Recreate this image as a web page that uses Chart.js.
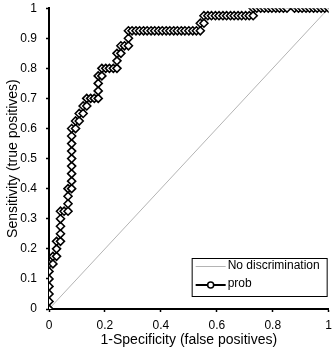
<!DOCTYPE html>
<html>
<head>
<meta charset="utf-8">
<script src="https://cdn.jsdelivr.net/npm/chart.js@4.4.1/dist/chart.umd.min.js"></script>
<style>
  html, body { margin: 0; padding: 0; background: #fff; overflow: hidden; }
  #wrap { width: 338px; height: 357px; position: relative; top: -8px; }
</style>
</head>
<body>
<div id="wrap"><canvas id="roc"></canvas></div>
<script>
// ROC curve: 1-specificity and sensitivity
const fpr = [
    0, 0, 0, 0, 0, 0, 0,
    0.014, 0.014, 0.027, 0.027, 0.027, 0.041, 0.041, 0.041, 0.041, 0.041,
    0.054, 0.068, 0.068, 0.068, 0.068, 0.081, 0.081, 0.081, 0.081, 0.081,
    0.081, 0.081, 0.081, 0.081, 0.095, 0.095, 0.108, 0.108, 0.122, 0.122,
    0.135, 0.135, 0.149, 0.162, 0.176, 0.176, 0.176, 0.176, 0.189, 0.189,
    0.203, 0.216, 0.230, 0.243, 0.243, 0.243, 0.257, 0.257, 0.270, 0.284,
    0.284, 0.284,
    0.297, 0.311, 0.324, 0.338, 0.351, 0.365, 0.378, 0.392, 0.405, 0.419,
    0.432, 0.446, 0.459, 0.473, 0.486, 0.500, 0.514, 0.527, 0.541,
    0.541, 0.554,
    0.554, 0.568, 0.581, 0.595, 0.608, 0.622, 0.635, 0.649, 0.662, 0.676,
    0.689, 0.703, 0.716, 0.730,
    0.730, 0.743, 0.757, 0.770, 0.784, 0.797, 0.811, 0.824, 0.838, 0.851,
    0.878, 0.892, 0.905, 0.919, 0.932, 0.946, 0.959, 0.973, 0.986, 1.000
];
const tpr = [
    0, 0.025, 0.05, 0.075, 0.1, 0.125, 0.15,
    0.15, 0.175, 0.175, 0.2, 0.225, 0.225, 0.25, 0.275, 0.3, 0.325,
    0.325, 0.325, 0.35, 0.375, 0.4, 0.4, 0.425, 0.45, 0.475, 0.5,
    0.525, 0.55, 0.575, 0.6, 0.6, 0.625, 0.625, 0.65, 0.65, 0.675,
    0.675, 0.7, 0.7, 0.7, 0.7, 0.725, 0.75, 0.775, 0.775, 0.8,
    0.8, 0.8, 0.8, 0.8, 0.825, 0.85, 0.85, 0.875, 0.875, 0.875,
    0.9, 0.925,
    0.925, 0.925, 0.925, 0.925, 0.925, 0.925, 0.925, 0.925, 0.925, 0.925,
    0.925, 0.925, 0.925, 0.925, 0.925, 0.925, 0.925, 0.925, 0.925,
    0.95, 0.95,
    0.975, 0.975, 0.975, 0.975, 0.975, 0.975, 0.975, 0.975, 0.975, 0.975,
    0.975, 0.975, 0.975, 0.975,
    1, 1, 1, 1, 1, 1, 1, 1, 1, 1,
    1, 1, 1, 1, 1, 1, 1, 1, 1, 1
];
const diagX = [0, 1];
const diagY = [0, 1];

const seriesNames = ['No discrimination', 'prob'];
const xTicks = [0, 0.2, 0.4, 0.6, 0.8, 1];
const yTicks = [0, 0.1, 0.2, 0.3, 0.4, 0.5, 0.6, 0.7, 0.8, 0.9, 1];

const font = "'Liberation Sans', Arial, Helvetica, sans-serif";

// legend box drawn inside the plot, bottom right
const boxLegend = {
    id: 'boxLegend',
    afterDraw(chart) {
        const ctx = chart.ctx;
        const a = chart.chartArea;
        const w = 135, h = 38;
        const x = a.right - 2 - w, y = a.bottom - 13 - h;
        ctx.save();
        ctx.fillStyle = '#fff';
        ctx.fillRect(x, y, w, h);
        ctx.strokeStyle = '#000';
        ctx.lineWidth = 1;
        ctx.strokeRect(x + 0.5, y + 0.5, w, h);

        ctx.font = '12px ' + font;
        ctx.textBaseline = 'middle';
        ctx.fillStyle = '#000';

        // grey line
        ctx.strokeStyle = '#b4b4b4';
        ctx.beginPath();
        ctx.moveTo(x + 4, y + 8.5);
        ctx.lineTo(x + 34, y + 8.5);
        ctx.stroke();
        ctx.fillText(seriesNames[0], x + 36, y + 8);

        // prob line with marker
        ctx.strokeStyle = '#000';
        ctx.lineWidth = 2;
        ctx.beginPath();
        ctx.moveTo(x + 4, y + 27);
        ctx.lineTo(x + 34, y + 27);
        ctx.stroke();
        ctx.fillStyle = '#fff';
        ctx.lineWidth = 1.5;
        ctx.beginPath();
        ctx.arc(x + 19, y + 27, 3, 0, Math.PI * 2);
        ctx.fill();
        ctx.stroke();
        ctx.fillStyle = '#000';
        ctx.fillText(seriesNames[1], x + 36, y + 26);
        ctx.restore();
    }
};

const ctx = document.getElementById('roc').getContext('2d');

new Chart(ctx, {
    type: 'scatter',
    data: {
        datasets: [{
            label: seriesNames[0],
            data: diagX.map((v, i) => ({ x: v, y: diagY[i] })),
            showLine: true,
            borderColor: '#b4b4b4',
            borderWidth: 1,
            pointRadius: 0,
            order: 2
        }, {
            label: seriesNames[1],
            data: fpr.map((v, i) => ({ x: v, y: tpr[i] })),
            showLine: true,
            borderColor: '#000',
            borderWidth: 2,
            pointStyle: 'rectRot',
            pointRadius: 4,
            pointBorderWidth: 1.6,
            pointBackgroundColor: '#fff',
            pointBorderColor: '#000',
            order: 1
        }]
    },
    options: {
        responsive: true,
        maintainAspectRatio: false,
        animation: false,
        layout: { padding: { top: 0, right: 1, left: 3, bottom: 0 } },
        plugins: {
            legend: { display: false },
            tooltip: { enabled: false }
        },
        scales: {
            x: {
                type: 'linear',
                min: 0,
                max: 1,
                afterBuildTicks: (s) => { s.ticks = xTicks.map(v => ({ value: v })); },
                afterFit: (s) => { s.height = 40; },
                border: { color: '#000', width: 2 },
                grid: { display: true, drawOnChartArea: false, color: '#000', tickLength: 3, tickWidth: 1.5 },
                ticks: {
                    color: '#000',
                    font: { family: font, size: 12 },
                    padding: 6,
                    maxRotation: 0,
                    callback: (v) => String(v)
                },
                title: {
                    display: true,
                    text: '1-Specificity (false positives)',
                    color: '#000',
                    font: { family: font, size: 14 },
                    padding: { top: 0, bottom: 0 }
                }
            },
            y: {
                type: 'linear',
                min: 0,
                max: 1,
                afterBuildTicks: (s) => { s.ticks = yTicks.map(v => ({ value: v })); },
                afterFit: (s) => { s.width = 46; },
                border: { color: '#000', width: 2 },
                grid: { display: true, drawOnChartArea: false, color: '#000', tickLength: 3, tickWidth: 1.5 },
                ticks: {
                    color: '#000',
                    font: { family: font, size: 12 },
                    padding: 9,
                    callback: (v) => String(v)
                },
                title: {
                    display: true,
                    text: 'Sensitivity (true positives)',
                    color: '#000',
                    font: { family: font, size: 14 },
                    padding: { top: 2, bottom: 0 }
                }
            }
        }
    },
    plugins: [boxLegend]
});
</script>
</body>
</html>
